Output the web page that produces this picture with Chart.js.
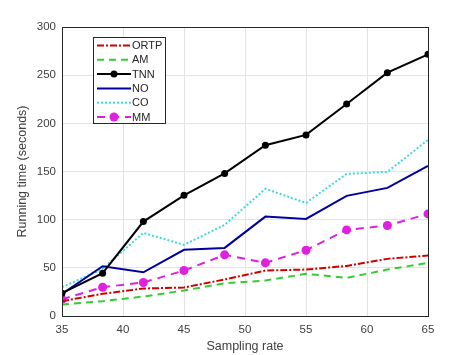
<!DOCTYPE html>
<html><head><meta charset="utf-8">
<script src="https://cdn.jsdelivr.net/npm/chart.js@4"></script>
<style>html,body{margin:0;padding:0;background:#fff;}canvas{display:block;}</style>
</head><body>
<canvas id="c" width="474" height="355"></canvas>
<script>
const samplingRates = [35, 38.33, 41.67, 45, 48.33, 51.67, 55, 58.33, 61.67, 65];
const seriesNames = ["ORTP", "AM", "TNN", "NO", "CO", "MM"];
const ortp = [15.4, 23, 28.5, 29.6, 37.9, 47.2, 48.2, 52, 59.3, 62.8];
const am   = [11.9, 15.4, 20.2, 26.5, 34, 36.8, 43.8, 39.6, 48.2, 55.2];
const tnn  = [23.7, 44.4, 98, 125.3, 148, 177.2, 188, 220, 252.6, 271.6];
const no   = [23, 51.7, 45.4, 68.7, 70.7, 103.2, 100.8, 124.7, 133, 155.8];
const co   = [29.9, 49, 86.3, 73.9, 94.6, 132, 117.4, 147.5, 149.6, 182.8];
const mm   = [17.4, 29.9, 34.8, 47.2, 63.5, 55.2, 68.3, 89.4, 93.9, 106];
const xTicks = [35, 40, 45, 50, 55, 60, 65];
const yTicks = [0, 50, 100, 150, 200, 250, 300];

const pts = arr => arr.map((v, i) => ({x: samplingRates[i], y: v}));
const styles = [
  {color: "#d00000", dash: [7, 2, 2, 2], r: 0},
  {color: "#33cc33", dash: [7, 5], r: 0},
  {color: "#000000", dash: [], r: 3.5},
  {color: "#0000a0", dash: [], r: 0},
  {color: "#40d8e0", dash: [2, 2], r: 0},
  {color: "#e020e0", dash: [8, 6], r: 4.5}
];
const values = [ortp, am, tnn, no, co, mm];
const datasets = values.map((v, i) => ({
  label: seriesNames[i],
  data: pts(v),
  borderColor: styles[i].color,
  backgroundColor: styles[i].color,
  borderWidth: 2,
  borderDash: styles[i].dash,
  pointRadius: styles[i].r,
  pointBorderWidth: 0,
  pointBackgroundColor: styles[i].color,
  tension: 0,
  fill: false
}));

const boxLegend = {
  id: "boxLegend",
  afterDraw(chart) {
    const ctx = chart.ctx, a = chart.chartArea;
    ctx.save();
    ctx.strokeStyle = "#262626";
    ctx.lineWidth = 1;
    ctx.setLineDash([]);
    ctx.strokeRect(a.left + 0.5, a.top + 0.5, a.right - a.left, a.bottom - a.top);
    // legend
    const lx = 93, ly = 37, lw = 72, lh = 86;
    ctx.fillStyle = "#fff";
    ctx.fillRect(lx, ly, lw, lh);
    ctx.strokeRect(lx + 0.5, ly + 0.5, lw, lh);
    ctx.font = "11px 'Liberation Sans', Arial, sans-serif";
    ctx.textBaseline = "middle";
    chart.data.datasets.forEach((ds, i) => {
      const y = ly + 8.5 + i * 14.3;
      ctx.strokeStyle = ds.borderColor;
      ctx.lineWidth = 2;
      ctx.setLineDash(ds.borderDash);
      ctx.beginPath();
      ctx.moveTo(lx + 4, y);
      ctx.lineTo(lx + 38, y);
      ctx.stroke();
      ctx.setLineDash([]);
      if (ds.pointRadius > 0) {
        ctx.fillStyle = ds.borderColor;
        ctx.beginPath();
        ctx.arc(lx + 21, y, ds.pointRadius, 0, Math.PI * 2);
        ctx.fill();
      }
      ctx.fillStyle = "#262626";
      ctx.fillText(ds.label, lx + 39, y + 0.5);
    });
    ctx.restore();
  }
};

new Chart(document.getElementById("c"), {
  type: "line",
  data: {datasets},
  options: {
    responsive: false,
    animation: false,
    layout: {padding: {top: 27, right: 46, left: 0, bottom: 0}},
    plugins: {legend: {display: false}, tooltip: {enabled: false}},
    scales: {
      x: {
        type: "linear", min: 35, max: 65,
        afterBuildTicks: s => { s.ticks = xTicks.map(v => ({value: v})); },
        afterFit: s => { s.height = 39; },
        grid: {color: "#e3e3e3", drawTicks: false},
        border: {display: false},
        ticks: {color: "#404040", padding: 7, font: {size: 11.5, family: "'Liberation Sans', Arial, sans-serif"}, maxRotation: 0},
        title: {display: true, text: "Sampling rate", color: "#404040", padding: {top: 2, bottom: 1}, font: {size: 12.5, family: "'Liberation Sans', Arial, sans-serif"}}
      },
      y: {
        min: 0, max: 300,
        afterBuildTicks: s => { s.ticks = yTicks.map(v => ({value: v})); },
        afterFit: s => { s.width = 62; },
        grid: {color: "#e3e3e3", drawTicks: false},
        border: {display: false},
        ticks: {color: "#404040", padding: 6, font: {size: 11.5, family: "'Liberation Sans', Arial, sans-serif"}},
        title: {display: true, text: "Running time (seconds)", color: "#404040", padding: {top: 15, bottom: 0}, font: {size: 12.5, family: "'Liberation Sans', Arial, sans-serif"}}
      }
    }
  },
  plugins: [boxLegend]
});
</script>
</body></html>
